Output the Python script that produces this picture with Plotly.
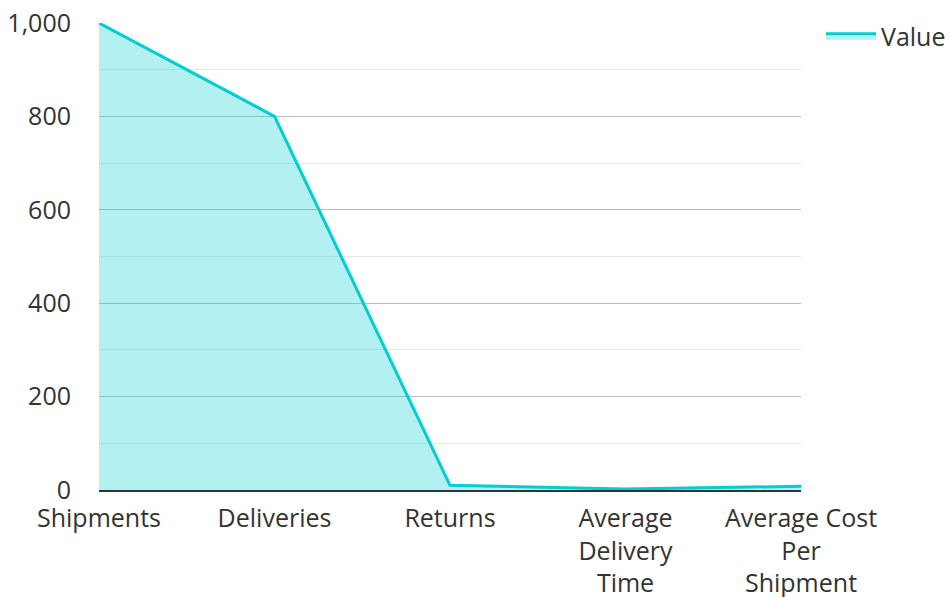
import plotly.graph_objects as go

categories = ["Shipments", "Deliveries", "Returns", "Average<br>Delivery<br>Time", "Average Cost<br>Per<br>Shipment"]
values = [1000, 800, 10, 2, 8]
series_name = "Value"

fig = go.Figure()
fig.add_trace(go.Scatter(
    x=list(range(len(categories))), y=values, name=series_name,
    mode="lines", fill="tozeroy",
    line=dict(color="#00CED1", width=3),
    fillcolor="rgba(0,206,209,0.3)",
    showlegend=True,
))

fig.update_layout(
    width=950, height=597,
    margin=dict(l=99, r=149, t=23, b=107),
    paper_bgcolor="white", plot_bgcolor="white",
    font=dict(family="Open Sans", size=25, color="#333"),
    legend=dict(xref="container", yref="container", x=821 / 950, y=1 - 13 / 597,
                xanchor="left", yanchor="top", font=dict(size=25),
                bgcolor="rgba(0,0,0,0)", itemwidth=50),
    xaxis=dict(
        tickmode="array", tickvals=list(range(len(categories))), ticktext=categories,
        range=[0, 4], showgrid=False, zeroline=False, automargin=False,
        showline=True, linecolor="#333", linewidth=2,
        ticks="", ticklabelstandoff=5, tickfont=dict(size=25, color="#333"),
    ),
    yaxis=dict(
        range=[0, 1000], tickvals=[0, 200, 400, 600, 800, 1000],
        tickformat=",d", showgrid=True, gridcolor="#bdbdbd", gridwidth=1,
        zeroline=False, showline=False, ticks="", automargin=False,
        ticklabelstandoff=27,
        minor=dict(dtick=100, showgrid=True, gridcolor="#e8e8e8"),
        tickfont=dict(size=25, color="#333"),
    ),
)

fig.write_html("out.html", config={"displayModeBar": False},
               post_script="document.body.style.margin='0';")
